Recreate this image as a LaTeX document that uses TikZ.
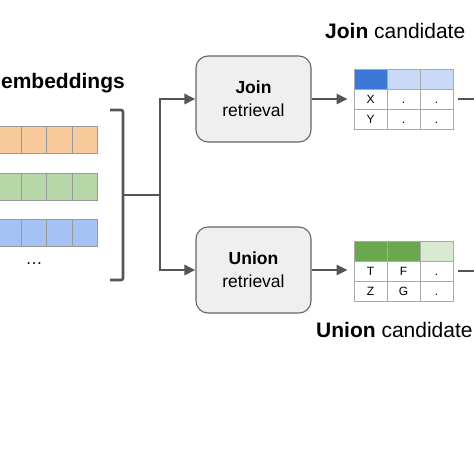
\documentclass[tikz,border=0pt]{standalone}
\usepackage{fontspec}
\setmainfont{Liberation Sans}
\usetikzlibrary{arrows.meta}
\definecolor{embor}{HTML}{F9CB9C}
\definecolor{embgr}{HTML}{B6D7A8}
\definecolor{embbl}{HTML}{A4C2F4}
\definecolor{hdbd}{HTML}{3C78D8}
\definecolor{hdbl}{HTML}{C9DAF8}
\definecolor{hdgd}{HTML}{6AA84F}
\definecolor{hdgl}{HTML}{D9EAD3}
\definecolor{linegray}{HTML}{555555}
\definecolor{boxfill}{HTML}{EFEFEF}
\definecolor{boxline}{HTML}{666666}
\definecolor{cellline}{HTML}{AAAAAA}
\definecolor{embline}{HTML}{999999}
\begin{document}
\begin{tikzpicture}[x=1pt,y=-1pt,
  conn/.style={draw=linegray, line width=2.6pt},
  arr/.style={conn, -{Triangle[length=11pt,width=10pt]}},
  retbox/.style={draw=boxline, fill=boxfill, line width=1.1pt, rounded corners=12pt,
    minimum width=115pt, minimum height=86pt, inner sep=0pt, align=center,
    font=\fontsize{17.5}{23}\selectfont},
  cellbox/.style={draw=cellline, line width=0.9pt, minimum width=33pt, minimum height=20pt,
    inner sep=0pt, text height=8.6pt, text depth=0pt, font=\fontsize{12}{14}\selectfont},
  embcell/.style={draw=embline, line width=0.9pt},
  ttl/.style={font=\fontsize{21}{26}\selectfont, inner sep=0pt}
]
\useasboundingbox (0,0) rectangle (474,474);

% embeddings
\node[ttl, anchor=base east] (embt) at (125,88) {\textbf{embeddings}};
\foreach \i in {0,...,3} {
  \draw[embcell, fill=embor] ({-4.5+25.5*\i},126) rectangle +(25.5,27);
  \draw[embcell, fill=embgr] ({-4.5+25.5*\i},173) rectangle +(25.5,27);
  \draw[embcell, fill=embbl] ({-4.5+25.5*\i},219) rectangle +(25.5,27);
}
\node[font=\fontsize{17}{18}\selectfont, inner sep=0pt, anchor=base] (dots) at (34,264) {…};

% bracket
\coordinate (bt) at (110,110);
\coordinate (bb) at (110,280);
\coordinate (br) at (123,195);
\coordinate (split) at (160,195);
\draw[conn, rounded corners=2pt] (bt) -- (123,110) -- (123,280) -- (bb);
\draw[conn] (br) -- (split);

% retrieval boxes
\node[retbox] (join) at (253.5,99) {\textbf{Join}\\retrieval};
\node[retbox] (union) at (253.5,270) {\textbf{Union}\\retrieval};

\draw[arr] (split) |- (join.west);
\draw[arr] (split) |- (union.west);

% join table
\node[cellbox, fill=hdbd] (j11) at (370.5,79) {};
\node[cellbox, fill=hdbl] (j12) at (403.5,79) {};
\node[cellbox, fill=hdbl] (j13) at (436.5,79) {};
\node[cellbox] (j21) at (370.5,99) {X};
\node[cellbox] (j22) at (403.5,99) {.};
\node[cellbox] (j23) at (436.5,99) {.};
\node[cellbox] (j31) at (370.5,119) {Y};
\node[cellbox] (j32) at (403.5,119) {.};
\node[cellbox] (j33) at (436.5,119) {.};

% union table
\node[cellbox, fill=hdgd] (u11) at (370.5,251) {};
\node[cellbox, fill=hdgd] (u12) at (403.5,251) {};
\node[cellbox, fill=hdgl] (u13) at (436.5,251) {};
\node[cellbox] (u21) at (370.5,271) {T};
\node[cellbox] (u22) at (403.5,271) {F};
\node[cellbox] (u23) at (436.5,271) {.};
\node[cellbox] (u31) at (370.5,291) {Z};
\node[cellbox] (u32) at (403.5,291) {G};
\node[cellbox] (u33) at (436.5,291) {.};

\draw[arr, shorten >=6pt] (join.east) -- (j21.west);
\draw[arr, shorten >=6pt] (union.east) -- (union.east -| u21.west);

\coordinate (jout) at (476,99);
\coordinate (uout) at (476,271);
\draw[conn, shorten <=5pt] (j23.east) -- (jout);
\draw[conn, shorten <=5pt] (u23.east) -- (uout);

% titles
\node[ttl, anchor=base west] (jtitle) at (325,38) {\textbf{Join} candidate};
\node[ttl, anchor=base west] (utitle) at (316,337) {\textbf{Union} candidate};
\end{tikzpicture}
\end{document}
